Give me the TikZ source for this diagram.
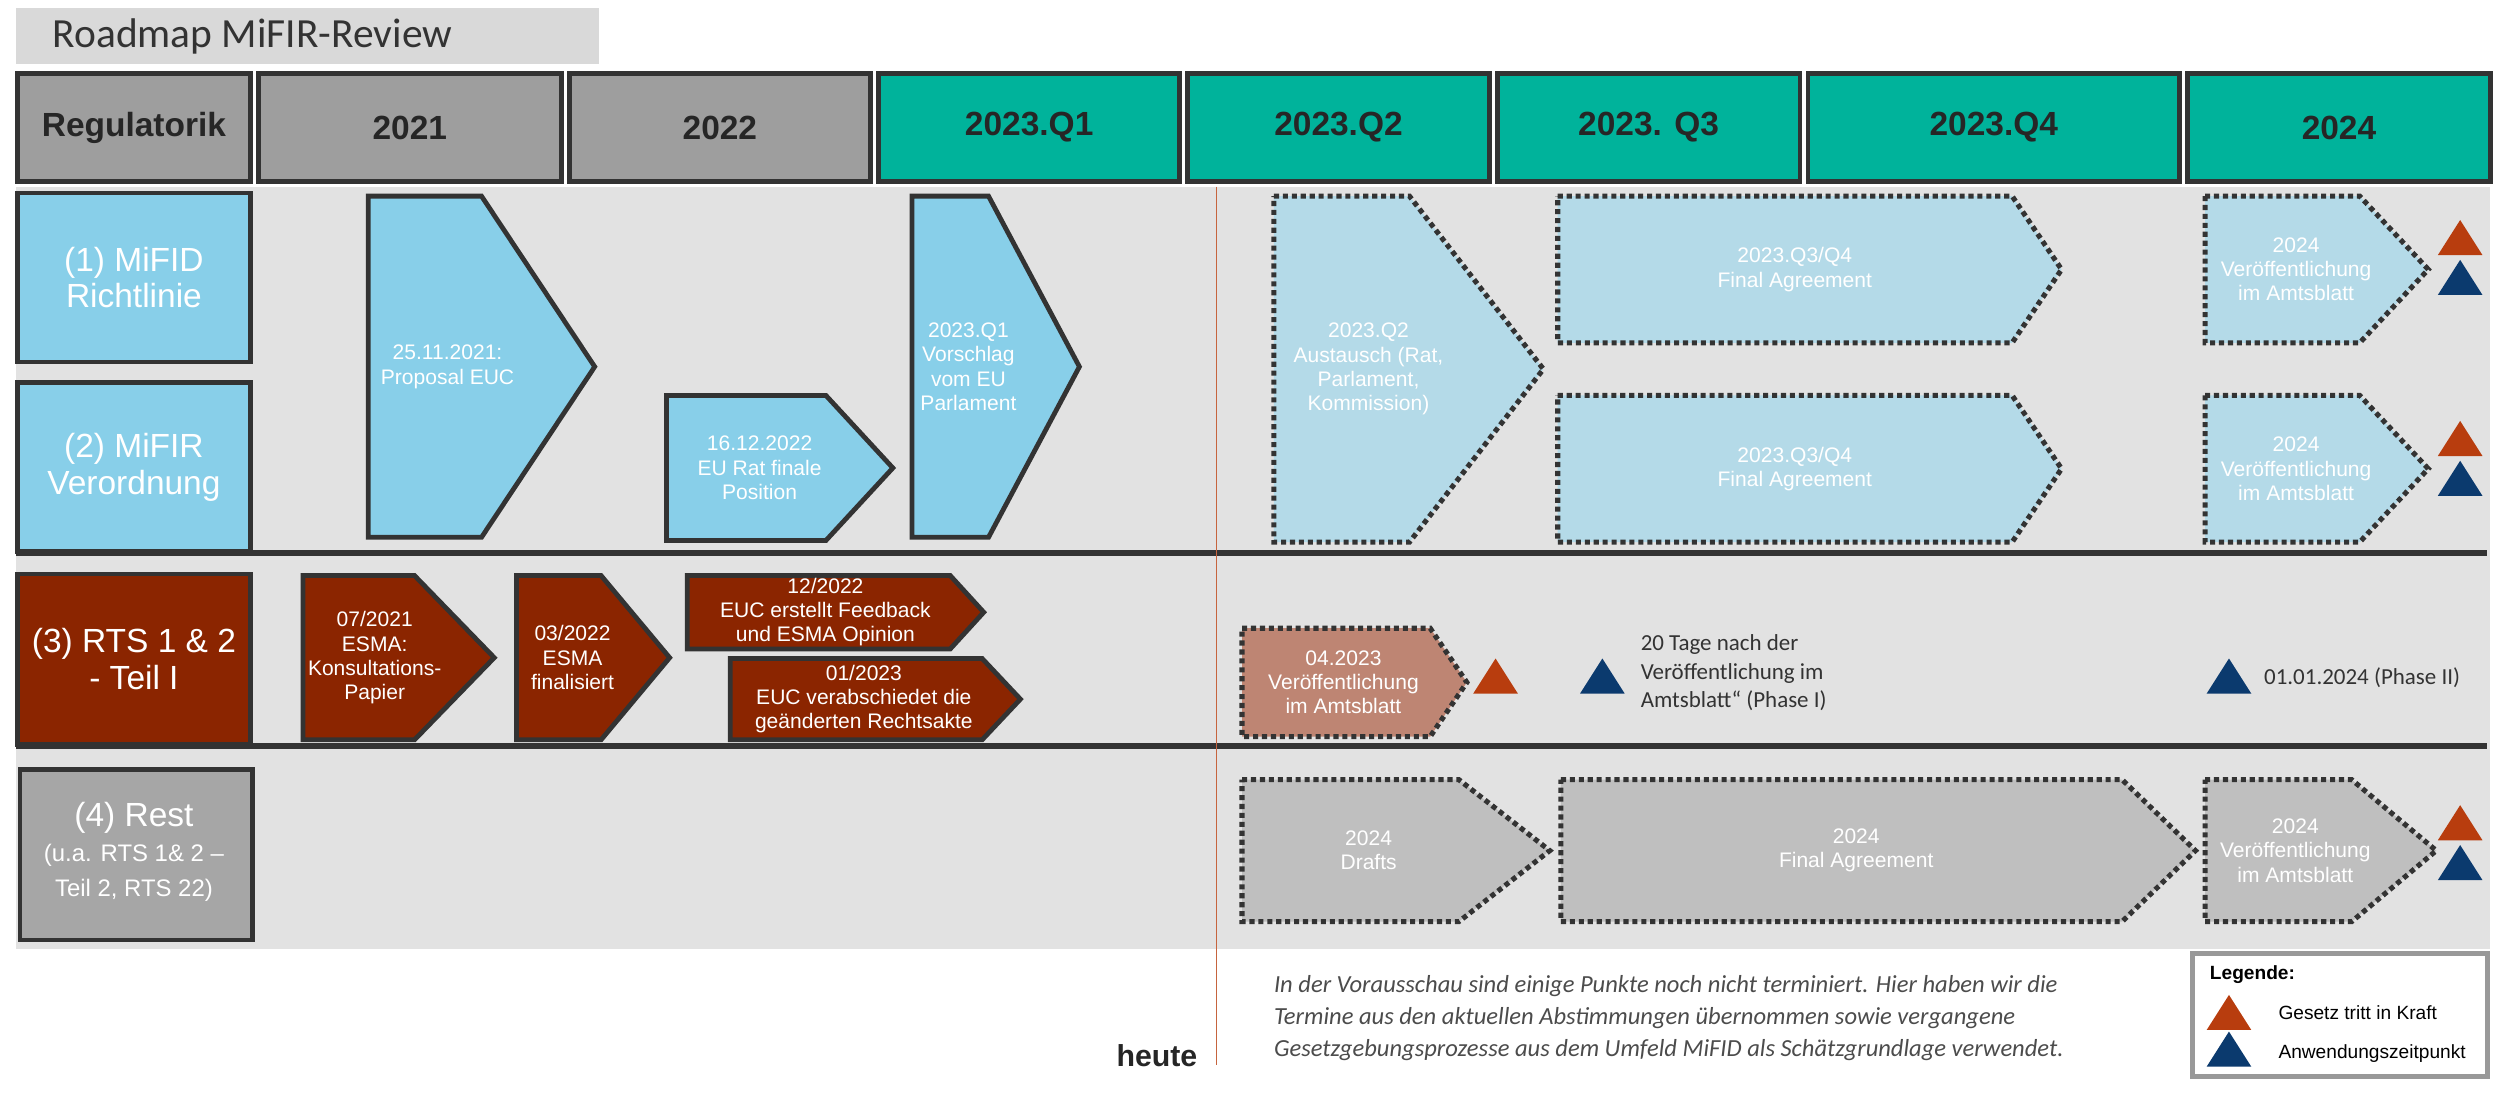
\documentclass[tikz,border=0pt]{standalone}
\usepackage{fontspec}
\setmainfont{Liberation Sans}
\newfontfamily\notefont{Carlito}
\begin{document}
\definecolor{teal1}{HTML}{00B39B}
\definecolor{sky}{HTML}{88CFE9}
\definecolor{skyd}{HTML}{B4DAE8}
\definecolor{rust}{HTML}{8B2500}
\definecolor{rustl}{HTML}{BE8573}
\definecolor{tred}{HTML}{B83D0E}
\definecolor{tblue}{HTML}{0B3A6E}
\definecolor{bord}{HTML}{333333}
\definecolor{bgg}{HTML}{E2E2E2}
\begin{tikzpicture}[x=0.5pt,y=-0.5pt,
  hdr/.style={draw=bord,line width=1.5pt},
  solidbox/.style={draw=bord,line width=1.5pt},
  dotbox/.style={draw=bord,line width=1.6pt,dash pattern=on 1.6pt off 1.2pt},
  wt/.style={text=white,align=center,font=\fontsize{6.6}{7.6}\selectfont}]
\useasboundingbox (0,0) rectangle (1568,687);
\fill[white] (0,0) rectangle (1568,687);
% title
\fill[gray!30] (10,5) rectangle (376,40);
\node[anchor=west,font=\fontsize{13}{15}\selectfont,text=black!80] (title) at (26,23) {\notefont Roadmap MiFIR-Review};
% background
\fill[bgg] (10,117) rectangle (1562,595);
% header
\newcommand\hcell[5]{\draw[hdr,fill=#4] (#2,46) rectangle (#3,114);
  \node[font=\bfseries\fontsize{10.5}{12}\selectfont,text=black!85] (#1) at ({(#2+#3)/2},80) {#5};}
\hcell{hR}{11}{157}{black!38}{Regulatorik}
\hcell{h21}{162}{352}{black!38}{2021}
\hcell{h22}{357}{546}{black!38}{2022}
\hcell{hq1}{551}{740}{teal1}{2023.Q1}
\hcell{hq2}{745}{934}{teal1}{2023.Q2}
\hcell{hq3}{939}{1129}{teal1}{2023. Q3}
\hcell{hq4}{1134}{1367}{teal1}{2023.Q4}
\hcell{h24}{1372}{1562}{teal1}{2024}
% separators
\draw[bord,line width=2pt] (10,347) -- (1560,347);
\draw[bord,line width=2pt] (10,468) -- (1560,468);
% left labels
\newcommand\lcell[6]{\draw[solidbox,fill=#4] (11,#2) rectangle (157,#3);
  \node[text=white,align=center,font=\fontsize{#5}{#5}\selectfont] (#1) at (84,{(#2+#3)/2}) {#6};}
\lcell{l1}{121}{227}{sky}{10.5}{(1) MiFID\\[1pt]Richtlinie}
\lcell{l2}{240}{346}{sky}{10.5}{(2) MiFIR\\[1pt]Verordnung}
\lcell{l3}{360}{467}{rust}{10.5}{(3) RTS 1 \& 2\\[1pt]- Teil I}
\node[draw=bord,line width=1.5pt,fill=black!35,minimum width=73pt,minimum height=53.5pt,anchor=north west] (l4) at (11,481) {};
\node[text=white,align=center] (l4t) at (84,534) {{\fontsize{10.5}{11}\selectfont (4) Rest}\\[-1pt]{\fontsize{7.5}{8.5}\selectfont (u.a. RTS 1\& 2 --}\\[-1pt]{\fontsize{7.5}{8.5}\selectfont Teil 2, RTS 22)}};
% chevrons: name, x1,y1,x2,y2,tip, style, text
\newcommand\chev[8]{\path[#7] (#2,#3) -- (#6,#3) -- (#4,{(#3+#5)/2}) -- (#6,#5) -- (#2,#5) -- cycle;
  \node[wt] (#1) at ({(#2+#6)/2+((#4)-(#6))*0.2},{(#3+#5)/2}) {#8};}
\chev{a1}{231}{123}{373}{337}{302}{solidbox,fill=sky}{25.11.2021:\\Proposal EUC}
\chev{a2}{418}{248}{560}{339}{518}{solidbox,fill=sky}{16.12.2022\\EU Rat finale\\Position}
\chev{a3}{572}{123}{677}{337}{620}{solidbox,fill=sky}{2023.Q1\\Vorschlag\\vom EU\\Parlament}
\chev{a4}{799}{123}{968}{340}{884}{dotbox,fill=skyd}{2023.Q2\\Austausch (Rat,\\Parlament,\\Kommission)}
\chev{a5}{977}{123}{1293}{215}{1262}{dotbox,fill=skyd}{2023.Q3/Q4\\Final Agreement}
\chev{a6}{977}{248}{1293}{340}{1262}{dotbox,fill=skyd}{2023.Q3/Q4\\Final Agreement}
\chev{a7}{1383}{123}{1523}{215}{1480}{dotbox,fill=skyd}{2024\\Veröffentlichung\\im Amtsblatt}
\chev{a8}{1383}{248}{1523}{340}{1480}{dotbox,fill=skyd}{2024\\Veröffentlichung\\im Amtsblatt}
\chev{b1}{190}{361}{310}{464}{260}{solidbox,fill=rust}{07/2021\\ESMA:\\Konsultations-\\Papier}
\chev{b2}{324}{361}{420}{464}{377}{solidbox,fill=rust}{03/2022\\ESMA\\finalisiert}
\chev{b3}{431}{361}{617}{407}{596}{solidbox,fill=rust}{12/2022\\EUC erstellt Feedback\\und ESMA Opinion}
\chev{b4}{458}{413}{640}{464}{616}{solidbox,fill=rust}{01/2023\\EUC verabschiedet die\\geänderten Rechtsakte}
\chev{b5}{779}{394}{920}{462}{897}{dotbox,fill=rustl}{04.2023\\Veröffentlichung\\im Amtsblatt}
\chev{c1}{779}{489}{972}{578}{915}{dotbox,fill=black!25}{2024\\Drafts}
\chev{c2}{979}{489}{1377}{578}{1331}{dotbox,fill=black!25}{2024\\Final Agreement}
\chev{c3}{1383}{489}{1528}{578}{1475}{dotbox,fill=black!25}{2024\\Veröffentlichung\\im Amtsblatt}
% triangles
\newcommand\tri[3]{\fill[#1] ({#2-14},{#3+22}) -- (#2,#3) -- ({#2+14},{#3+22}) -- cycle;}
\tri{tred}{1543}{138}\tri{tblue}{1543}{163}
\tri{tred}{1543}{264}\tri{tblue}{1543}{289}
\tri{tred}{1543}{505}\tri{tblue}{1543}{530}
\tri{tred}{938}{413}\tri{tblue}{1005}{413}\tri{tblue}{1398}{413}
\node[anchor=west,align=left,font=\notefont\fontsize{7.2}{9}\selectfont,text=black!80] (n1) at (1022,422) {20 Tage nach der\\Veröffentlichung im\\Amtsblatt“ (Phase I)};
\node[anchor=west,font=\notefont\fontsize{7.2}{9}\selectfont,text=black!80] (n2) at (1413,425) {01.01.2024 (Phase II)};
% today line
\coordinate (t1) at (763,117); \coordinate (t2) at (763,668);
\draw[tred!80,line width=0.5pt] (t1) -- (t2);
\node[anchor=east,font=\bfseries\fontsize{9.5}{11}\selectfont,text=black!85] (heute) at (758,662) {heute};
% note
\node[anchor=north west,align=left,font=\notefont\itshape\fontsize{7.7}{10}\selectfont,text=black!70] (note) at (792,605) {In der Vorausschau sind einige Punkte noch nicht terminiert. Hier haben wir die\\Termine aus den aktuellen Abstimmungen übernommen sowie vergangene\\Gesetzgebungsprozesse aus dem Umfeld MiFID als Schätzgrundlage verwendet.};
% legend
\draw[black!40,line width=1.5pt,fill=white] (1375,598) rectangle (1560,675);
\node[anchor=west,font=\bfseries\fontsize{6}{7}\selectfont] (lg) at (1379,611) {Legende:};
\tri{tred}{1398}{624}\tri{tblue}{1398}{647}
\node[anchor=west,font=\fontsize{6}{7}\selectfont] (lg1) at (1422,635) {Gesetz tritt in Kraft};
\node[anchor=west,font=\fontsize{6}{7}\selectfont] (lg2) at (1422,661) {Anwendungszeitpunkt};
\end{tikzpicture}
\end{document}
